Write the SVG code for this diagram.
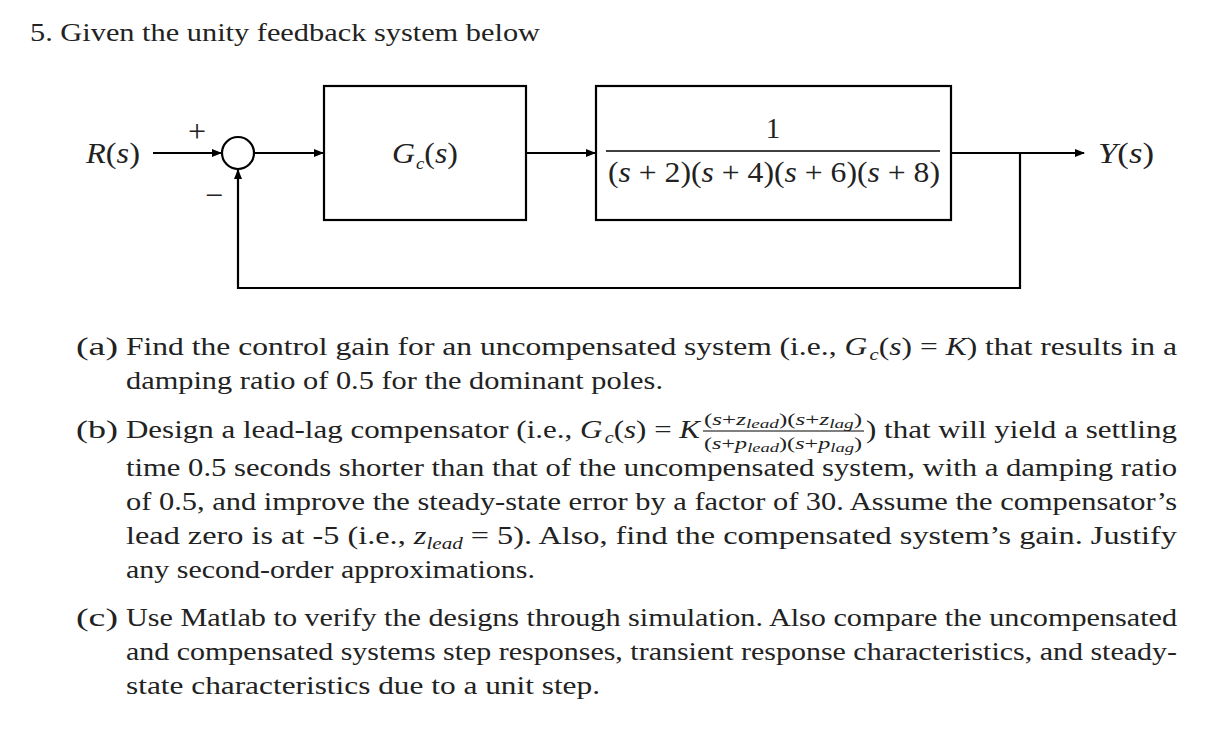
<svg xmlns="http://www.w3.org/2000/svg" width="1224" height="732" viewBox="0 0 1224 732">
<style>
text{font-family:"Liberation Serif","DejaVu Serif",serif;font-size:26px;fill:#222}
.d{font-size:29px}
.m{font-style:italic}
.s{font-size:17px}
.b{fill:none;stroke:#000;stroke-width:2.2}
.l{fill:none;stroke:#000;stroke-width:2.2}
</style>
<defs><marker id="a" markerWidth="10" markerHeight="8" refX="9" refY="4" orient="auto" markerUnits="userSpaceOnUse"><path d="M0,0L10,4L0,8z" fill="#000"/></marker></defs>
<rect width="1224" height="732" fill="#fff"/>
<text x="30" y="41" textLength="510" lengthAdjust="spacingAndGlyphs">5. Given the unity feedback system below</text>
<g id="R"><text x="86" y="163" class="d" textLength="54" lengthAdjust="spacingAndGlyphs"><tspan class="m">R</tspan>(<tspan class="m">s</tspan>)</text></g>
<g id="sum"><circle cx="238" cy="153" r="16" class="b"/><text x="188" y="142" style="font-size:32px">+</text><text x="205" y="206" style="font-size:32px">−</text></g>
<g id="Gc"><rect x="324" y="86" width="202" height="134" class="b"/><text x="392" y="163" class="d" textLength="66" lengthAdjust="spacingAndGlyphs"><tspan class="m">G</tspan><tspan class="m s" dx="1" dy="6">c</tspan><tspan dy="-6">(</tspan><tspan class="m">s</tspan>)</text></g>
<g id="G"><rect x="596" y="86" width="355" height="134" class="b"/><text x="773" y="138" class="d" text-anchor="middle">1</text><line x1="606" y1="151" x2="940" y2="151" stroke="#000" stroke-width="1.4"/><text x="608" y="182" class="d" textLength="332" lengthAdjust="spacingAndGlyphs">(<tspan class="m">s</tspan> + 2)(<tspan class="m">s</tspan> + 4)(<tspan class="m">s</tspan> + 6)(<tspan class="m">s</tspan> + 8)</text></g>
<g id="Y"><text x="1098" y="163" class="d" textLength="56" lengthAdjust="spacingAndGlyphs"><tspan class="m">Y</tspan>(<tspan class="m">s</tspan>)</text></g>
<g id="connectors">
<line x1="153" y1="153" x2="221" y2="153" class="l" marker-end="url(#a)"/>
<line x1="254" y1="153" x2="323" y2="153" class="l" marker-end="url(#a)"/>
<line x1="526" y1="153" x2="595" y2="153" class="l" marker-end="url(#a)"/>
<line x1="951" y1="153" x2="1084" y2="153" class="l" marker-end="url(#a)"/>
<polyline points="1020,153 1020,288 238,288 238,170" class="l" marker-end="url(#a)"/>
</g>
<text x="76" y="355" textLength="42" lengthAdjust="spacingAndGlyphs">(a)</text>
<text x="126" y="355" textLength="1051" lengthAdjust="spacingAndGlyphs">Find the control gain for an uncompensated system (i.e., <tspan class="m">G</tspan><tspan class="m s" dx="2" dy="5">c</tspan><tspan dy="-5">(</tspan><tspan class="m">s</tspan>) = <tspan class="m">K</tspan>) that results in a</text>
<text x="126" y="389" textLength="537" lengthAdjust="spacingAndGlyphs">damping ratio of 0.5 for the dominant poles.</text>
<text x="76" y="438" textLength="42" lengthAdjust="spacingAndGlyphs">(b)</text>
<text x="126" y="438" textLength="574" lengthAdjust="spacingAndGlyphs">Design a lead-lag compensator (i.e., <tspan class="m">G</tspan><tspan class="m s" dx="2" dy="5">c</tspan><tspan dy="-5">(</tspan><tspan class="m">s</tspan>) = <tspan class="m">K</tspan></text>
<text x="704" y="425" class="s" textLength="158" lengthAdjust="spacingAndGlyphs">(<tspan class="m">s</tspan>+<tspan class="m">z</tspan><tspan class="m" font-size="13" dy="3">lead</tspan><tspan dy="-3">)(</tspan><tspan class="m">s</tspan>+<tspan class="m">z</tspan><tspan class="m" font-size="13" dy="3">lag</tspan><tspan dy="-3">)</tspan></text>
<line x1="703" y1="431" x2="864" y2="431" stroke="#000" stroke-width="1"/>
<text x="704" y="449" class="s" textLength="158" lengthAdjust="spacingAndGlyphs">(<tspan class="m">s</tspan>+<tspan class="m">p</tspan><tspan class="m" font-size="13" dy="3">lead</tspan><tspan dy="-3">)(</tspan><tspan class="m">s</tspan>+<tspan class="m">p</tspan><tspan class="m" font-size="13" dy="3">lag</tspan><tspan dy="-3">)</tspan></text>
<text x="866" y="438" textLength="311" lengthAdjust="spacingAndGlyphs">) that will yield a settling</text>
<text x="126" y="476" textLength="1051" lengthAdjust="spacingAndGlyphs">time 0.5 seconds shorter than that of the uncompensated system, with a damping ratio</text>
<text x="126" y="510" textLength="1051" lengthAdjust="spacingAndGlyphs">of 0.5, and improve the steady-state error by a factor of 30. Assume the compensator’s</text>
<text x="126" y="544" textLength="1051" lengthAdjust="spacingAndGlyphs">lead zero is at -5 (i.e., <tspan class="m">z</tspan><tspan class="m s" dy="5">lead</tspan><tspan dy="-5"> = 5). Also, find the compensated system’s gain. Justify</tspan></text>
<text x="126" y="578" textLength="409" lengthAdjust="spacingAndGlyphs">any second-order approximations.</text>
<text x="76" y="626" textLength="42" lengthAdjust="spacingAndGlyphs">(c)</text>
<text x="126" y="626" textLength="1051" lengthAdjust="spacingAndGlyphs">Use Matlab to verify the designs through simulation. Also compare the uncompensated</text>
<text x="126" y="660" textLength="1051" lengthAdjust="spacingAndGlyphs">and compensated systems step responses, transient response characteristics, and steady-</text>
<text x="126" y="694" textLength="474" lengthAdjust="spacingAndGlyphs">state characteristics due to a unit step.</text>
</svg>
